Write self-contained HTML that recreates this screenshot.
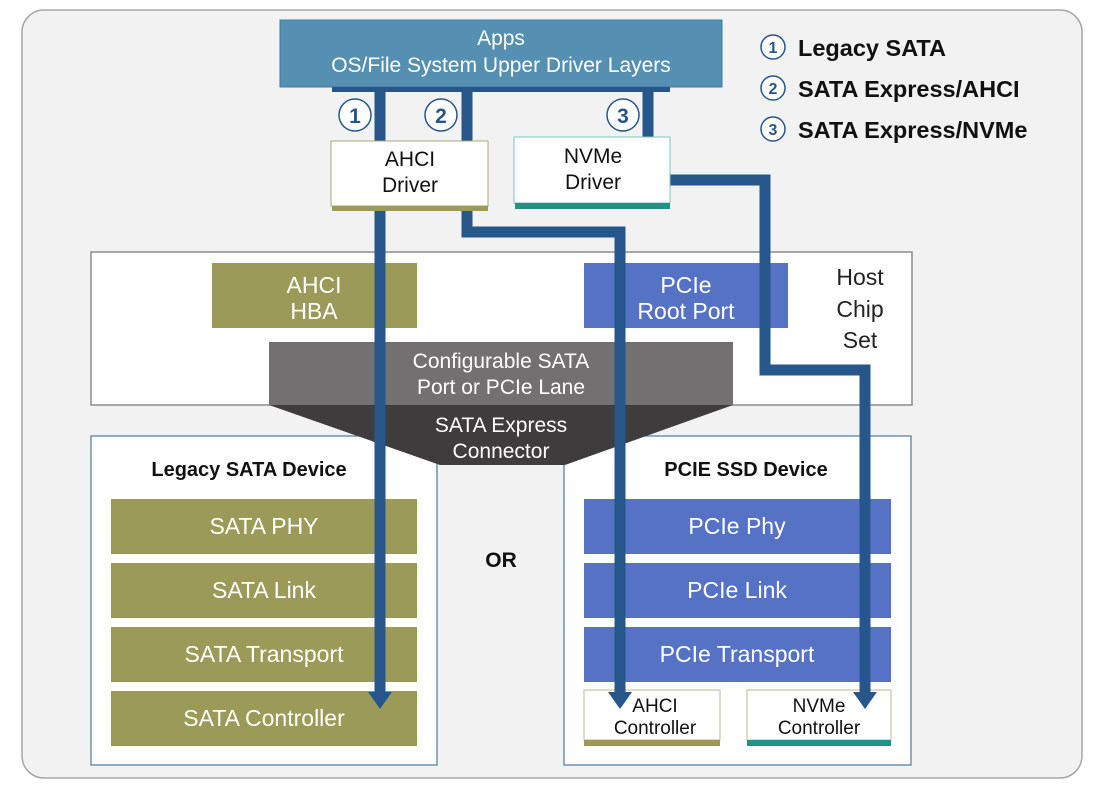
<!DOCTYPE html>
<html><head><style>body{margin:0;background:#fff}svg{display:block}text{font-family:"Liberation Sans",Arial,sans-serif}</style></head><body>
<svg width="1100" height="789" viewBox="0 0 1100 789" xmlns="http://www.w3.org/2000/svg">
<rect x="22" y="10" width="1060" height="768" rx="22" fill="#f2f2f2" stroke="#a6a6a6" stroke-width="1.5"/>
<rect x="280" y="20" width="442" height="67" fill="#5590b2" stroke="#3d7ba0"/>
<text x="501" y="45" font-size="21" fill="#fff" text-anchor="middle">Apps</text>
<text x="501" y="72" font-size="21" fill="#fff" text-anchor="middle">OS/File System Upper Driver Layers</text>
<rect x="332" y="87" width="338" height="5" fill="#27568a"/>
<rect x="91" y="252" width="821" height="153" fill="#fff" stroke="#8c8c8c" stroke-width="1.5"/>
<text x="860" y="285" font-size="23" fill="#222" text-anchor="middle">Host</text>
<text x="860" y="317" font-size="23" fill="#222" text-anchor="middle">Chip</text>
<text x="860" y="348" font-size="23" fill="#222" text-anchor="middle">Set</text>
<rect x="91" y="436" width="346" height="329" fill="#fff" stroke="#4d7a9e" stroke-width="1.2"/>
<rect x="564" y="436" width="347" height="329" fill="#fff" stroke="#4d7a9e" stroke-width="1.2"/>
<text x="249" y="476" font-size="20" font-weight="bold" fill="#111" text-anchor="middle">Legacy SATA Device</text>
<text x="746" y="476" font-size="20" font-weight="bold" fill="#111" text-anchor="middle">PCIE SSD Device</text>
<text x="501" y="567" font-size="21" font-weight="bold" fill="#111" text-anchor="middle">OR</text>
<polygon points="269,342 733,342 733,405 565,465 440,465 269,405" fill="#3e3c3c"/>
<rect x="269" y="342" width="464" height="63" fill="#727071"/>
<text x="501" y="368" font-size="21" fill="#fff" text-anchor="middle">Configurable SATA</text>
<text x="501" y="394" font-size="21" fill="#fff" text-anchor="middle">Port or PCIe Lane</text>
<text x="501" y="432" font-size="21" fill="#fff" text-anchor="middle">SATA Express</text>
<text x="501" y="458" font-size="21" fill="#fff" text-anchor="middle">Connector</text>
<g fill="#9b9a58">
<rect x="111" y="499" width="306" height="55"/><rect x="111" y="563" width="306" height="55"/><rect x="111" y="627" width="306" height="55"/><rect x="111" y="691" width="306" height="55"/>
</g>
<g fill="#5572c4">
<rect x="584" y="499" width="307" height="55"/><rect x="584" y="563" width="307" height="55"/><rect x="584" y="627" width="307" height="55"/>
</g>
<g font-size="23" fill="#fff" text-anchor="middle">
<text x="264" y="534">SATA PHY</text><text x="264" y="598">SATA Link</text><text x="264" y="662">SATA Transport</text><text x="264" y="726">SATA Controller</text>
<text x="737" y="534">PCIe Phy</text><text x="737" y="598">PCIe Link</text><text x="737" y="662">PCIe Transport</text>
</g>
<rect x="584" y="690" width="136" height="50" fill="#fff" stroke="#b9b98a"/><rect x="584" y="740" width="136" height="6" fill="#9b9a58"/>
<rect x="747" y="690" width="144" height="50" fill="#fff" stroke="#b9b98a"/><rect x="747" y="740" width="144" height="6" fill="#1f9486"/>
<text x="655" y="712" font-size="19" fill="#111" text-anchor="middle">AHCI</text><text x="655" y="734" font-size="19" fill="#111" text-anchor="middle">Controller</text>
<text x="819" y="712" font-size="19" fill="#111" text-anchor="middle">NVMe</text><text x="819" y="734" font-size="19" fill="#111" text-anchor="middle">Controller</text>
<rect x="212" y="263" width="205" height="65" fill="#9b9a58"/>
<rect x="584" y="263" width="204" height="65" fill="#5572c4"/>
<text x="314" y="293" font-size="23" fill="#fff" text-anchor="middle">AHCI</text><text x="314" y="319" font-size="23" fill="#fff" text-anchor="middle">HBA</text>
<text x="686" y="293" font-size="23" fill="#fff" text-anchor="middle">PCIe</text><text x="686" y="319" font-size="23" fill="#fff" text-anchor="middle">Root Port</text>
<g fill="none" stroke="#27568a" stroke-width="11">
<polyline points="380,90 380,693"/>
<polyline points="467,90 467,232 620,232 620,693"/>
<polyline points="648,90 648,140"/>
<polyline points="668,180 765,180 765,370 865,370 865,693"/>
</g>
<g fill="#27568a">
<polygon points="368,692 392,692 380,709"/>
<polygon points="608,692 632,692 620,709"/>
<polygon points="853,692 877,692 865,709"/>
</g>
<rect x="331" y="141" width="157" height="65" fill="#fff" stroke="#a8a878"/><rect x="332" y="206" width="156" height="5" fill="#9b9a58"/>
<rect x="514" y="137" width="156" height="66" fill="#fff" stroke="#7fc4bc"/><rect x="515" y="203" width="155" height="6" fill="#1f9486"/>
<text x="410" y="166" font-size="21" fill="#111" text-anchor="middle">AHCI</text><text x="410" y="192" font-size="21" fill="#111" text-anchor="middle">Driver</text>
<text x="593" y="163" font-size="21" fill="#111" text-anchor="middle">NVMe</text><text x="593" y="189" font-size="21" fill="#111" text-anchor="middle">Driver</text>
<g fill="#fff" stroke="#27568a" stroke-width="1.5">
<circle cx="355" cy="115" r="16"/><circle cx="441" cy="115" r="16"/><circle cx="623" cy="115" r="16"/>
<circle cx="773" cy="47" r="12"/><circle cx="773" cy="88" r="12"/><circle cx="773" cy="129" r="12"/>
</g>
<g font-weight="bold" fill="#27568a" text-anchor="middle">
<text x="355" y="123" font-size="21">1</text><text x="441" y="123" font-size="21">2</text><text x="623" y="123" font-size="21">3</text>
<text x="773" y="53" font-size="16">1</text><text x="773" y="94" font-size="16">2</text><text x="773" y="135" font-size="16">3</text>
</g>
<g font-size="23.5" font-weight="bold" fill="#111">
<text x="798" y="56">Legacy SATA</text><text x="798" y="97">SATA Express/AHCI</text><text x="798" y="138">SATA Express/NVMe</text>
</g>
</svg>
</body></html>
